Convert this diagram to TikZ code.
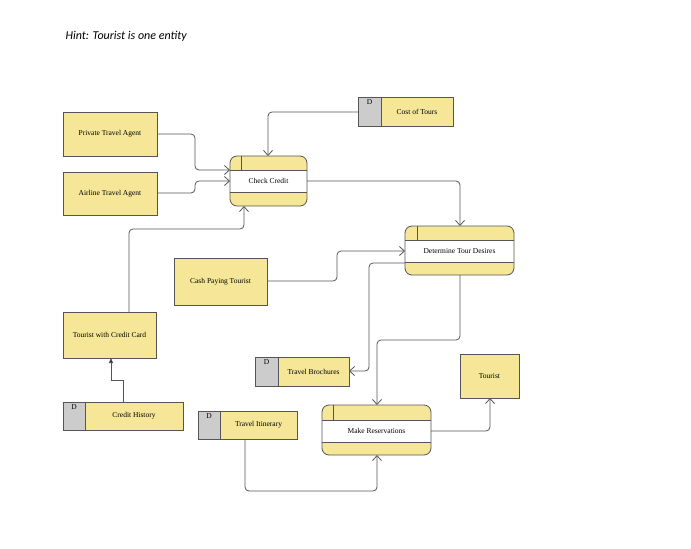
\documentclass[tikz,border=0pt]{standalone}
\usepackage{fontspec}
\setmainfont{Liberation Serif}
\newfontfamily\hintfont{Carlito}
\usetikzlibrary{arrows.meta}
\definecolor{fillY}{HTML}{F5E797}
\definecolor{fillD}{HTML}{CCCCCC}
\definecolor{lineG}{HTML}{555555}
\tikzset{
  ent/.style={draw=lineG,fill=fillY,line width=0.8pt,font=\fontsize{7.5}{8}\selectfont},
  flow/.style={draw=lineG,line width=0.8pt,rounded corners=4pt,-{Straight Barb[length=5pt,width=9pt]}},
  lbl/.style={font=\fontsize{7.5}{8}\selectfont,inner sep=0},
}
\newcommand{\mkent}[6]{% name, x1,y1,x2,y2,text
  \draw[ent] (#2,#3) rectangle (#4,#5);
  \node[lbl] (#1) at ({(#2+#4)/2},{(#3+#5)/2}) {#6};}
\newcommand{\mkstore}[7]{% name, x1,y1,xd,x2,y2,text
  \draw[ent,fill=fillD] (#2,#3) rectangle (#4,#6);
  \draw[ent] (#4,#3) rectangle (#5,#6);
  \node[lbl,anchor=north] at ({(#2+#4)/2},{#3+2}) {D};
  \node[lbl] (#1) at ({(#4+#5)/2},{(#3+#6)/2}) {#7};}
\newcommand{\mkproc}[8]{% name,x1,y1,x2,y2,yw1,yw2,xtab
  \fill[fillY,rounded corners=7pt] (#2,#3) rectangle (#4,#5);
  \fill[white] (#2,#6) rectangle (#4,#7);
  \draw[lineG,line width=0.8pt,rounded corners=7pt] (#2,#3) rectangle (#4,#5);
  \draw[lineG,line width=0.8pt] (#2,#6) -- (#4,#6) (#2,#7) -- (#4,#7) (#8,#3) -- (#8,#6);
  \coordinate (#1) at ({(#2+#4)/2},{(#6+#7)/2});}
\begin{document}
\begin{tikzpicture}[x=1pt,y=-1pt]
\useasboundingbox (0,0) rectangle (691,549);
\node[anchor=west,font=\hintfont\itshape\fontsize{12}{14}\selectfont] (hint) at (62,36) {Hint: Tourist is one entity};
\mkent{pta}{63}{112}{157}{156}{Private Travel Agent}
\mkent{ata}{63}{172}{157}{215}{Airline Travel Agent}
\mkent{cpt}{174}{258}{267}{305}{Cash Paying Tourist}
\mkent{tcc}{63}{312}{156}{358}{Tourist with Credit Card}
\mkent{tou}{460}{354}{519}{398}{Tourist}
\mkstore{cot}{358}{97}{381}{453}{126}{Cost of Tours}
\mkstore{ch}{63}{402}{85}{183}{430}{Credit History}
\mkstore{tb}{255}{357}{278}{349}{386}{Travel Brochures}
\mkstore{ti}{198}{411}{220}{297}{439}{Travel Itinerary}
\mkproc{cc}{230}{156}{307}{206}{170}{192}{241}
\node[lbl] (cct) at (cc) {Check Credit};
\mkproc{dtd}{405}{226}{514}{275}{240}{262}{417}
\node[lbl] (dtdt) at (dtd) {Determine Tour Desires};
\mkproc{mr}{322}{405}{431}{455}{420}{442}{333}
\node[lbl] (mrt) at (mr) {Make Reservations};
% flows
\draw[flow] (157,134) -- (195,134) -- (195,170) -- (230,170);
\draw[flow] (157,193) -- (195,193) -- (195,181) -- (230,181);
\draw[flow] (358,112) -- (268,112) -- (268,156);
\draw[flow] (307,181) -- (460,181) -- (460,226);
\draw[flow] (267,281) -- (337,281) -- (337,251) -- (405,251);
\draw[flow] (129,312) -- (129,229) -- (244,229) -- (244,206);
\draw[flow] (460,275) -- (460,340) -- (377,340) -- (377,405);
\draw[flow] (405,263) -- (369,263) -- (369,371) -- (349,371);
\draw[flow] (431,431) -- (490,431) -- (490,398);
\draw[flow] (245,439) -- (245,491) -- (377,491) -- (377,455);
\draw[draw=lineG,line width=0.8pt,-{Triangle[length=5pt,width=4pt,fill=black]}] (123,402) -- (123,380) -- (111,380) -- (111,358);
\end{tikzpicture}
\end{document}
